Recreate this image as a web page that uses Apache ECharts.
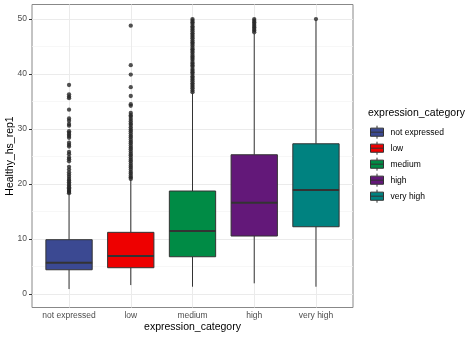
<!DOCTYPE html>
<html><head><meta charset="utf-8">
<script src="https://cdn.jsdelivr.net/npm/echarts@6/dist/echarts.min.js"></script>
<style>html,body{margin:0;padding:0;background:#fff}#c{width:474px;height:338px}</style>
</head><body><div id="c"></div>
<script>
const categories = ['not expressed', 'low', 'medium', 'high', 'very high'];
const categoryPos = [1, 2, 3, 4, 5];
const colors = ['#3B4992', '#EE0000', '#008B45', '#631879', '#008280'];
// [lower whisker, Q1, median, Q3, upper whisker]
const boxNotExpressed = [0.86, 4.37, 5.65, 9.84, 18.1];
const boxLow = [1.58, 4.74, 6.87, 11.18, 20.7];
const boxMedium = [1.28, 6.74, 11.42, 18.7, 36.5];
const boxHigh = [1.9, 10.51, 16.58, 25.3, 47.3];
const boxVeryHigh = [1.28, 12.2, 18.9, 27.3, 49.8];
// outliers
const outNotExpressed = [38.0, 36.3, 35.9, 35.6, 33.5, 31.9, 31.5, 30.9, 30.6, 29.6, 29.3, 29.0, 28.7, 28.4, 27.5, 27.1, 26.8, 25.8, 25.4, 24.8, 24.5, 24.1, 23.1, 22.6, 22.1, 21.7, 21.3, 20.9, 20.6, 20.3, 20.0, 19.7, 19.4, 19.2, 18.9, 18.7, 18.5, 18.3];
const outLow = [48.8, 41.6, 39.9, 37.6, 36.0, 34.5, 34.2, 32.9, 32.5, 32.2, 31.8, 31.4, 31.0, 30.7, 30.3, 29.9, 29.6, 29.2, 28.8, 28.5, 28.1, 27.7, 27.4, 27.0, 26.6, 26.3, 25.9, 25.5, 25.2, 24.8, 24.4, 24.1, 23.7, 23.3, 23.0, 22.6, 22.2, 21.9, 21.5, 21.2, 20.9];
const outMedium = [50.0, 49.7, 49.4, 49.1, 48.7, 48.4, 48.1, 47.8, 47.4, 47.1, 46.8, 46.5, 46.1, 45.8, 45.5, 45.2, 44.8, 44.5, 44.2, 43.9, 43.5, 43.2, 42.9, 42.6, 42.2, 41.9, 41.6, 41.3, 40.9, 40.6, 40.3, 40.0, 39.6, 39.3, 39.0, 38.7, 38.3, 38.0, 37.7, 37.4, 37.0, 36.7];
const outHigh = [50.0, 49.7, 49.4, 49.1, 48.8, 48.5, 48.2, 47.9, 47.6];
const outVeryHigh = [50.0];
const yTicks = [0, 10, 20, 30, 40, 50];
const yMinor = [5, 15, 25, 35, 45];

const boxes = [boxNotExpressed, boxLow, boxMedium, boxHigh, boxVeryHigh];
const outs = [outNotExpressed, outLow, outMedium, outHigh, outVeryHigh];
const FONT = 'Liberation Sans, Arial, sans-serif';

function renderBox(params, api) {
  const x = api.value(0);
  const lo = api.coord([x, api.value(1)]);
  const q1 = api.coord([x, api.value(2)]);
  const med = api.coord([x, api.value(3)]);
  const q3 = api.coord([x, api.value(4)]);
  const hi = api.coord([x, api.value(5)]);
  const w = api.size([0.75, 0], [x, 0])[0];
  const cx = q1[0];
  const left = cx - w / 2;
  const stroke = '#333333';
  return {
    type: 'group',
    children: [
      {type: 'line', shape: {x1: cx, y1: hi[1], x2: cx, y2: q3[1]}, style: {stroke: stroke, lineWidth: 1}},
      {type: 'line', shape: {x1: cx, y1: q1[1], x2: cx, y2: lo[1]}, style: {stroke: stroke, lineWidth: 1}},
      {type: 'rect', shape: {x: left, y: q3[1], width: w, height: q1[1] - q3[1]}, style: {fill: api.visual('color'), stroke: stroke, lineWidth: 1}},
      {type: 'line', shape: {x1: left, y1: med[1], x2: left + w, y2: med[1]}, style: {stroke: stroke, lineWidth: 2}}
    ]
  };
}

const majorStyle = {color: '#EBEBEB', width: 1, type: 'solid'};
const minorStyle = {color: '#F3F3F3', width: 0.7, type: 'solid'};

const series = [];
series.push({
  type: 'line', data: [], silent: true, z: 1, animation: false,
  markLine: {
    z: 1, silent: true, symbol: ['none', 'none'], label: {show: false}, animation: false,
    data: [].concat(
      yMinor.map(v => ({yAxis: v, lineStyle: minorStyle})),
      yTicks.map(v => ({yAxis: v, lineStyle: majorStyle})),
      categoryPos.map(v => ({xAxis: v, lineStyle: majorStyle}))
    )
  }
});
categories.forEach((name, i) => {
  series.push({
    name: name, type: 'custom', renderItem: renderBox, z: 3, animation: false, silent: true,
    itemStyle: {color: colors[i]},
    encode: {x: 0, y: [1, 2, 3, 4, 5]},
    data: [[categoryPos[i]].concat(boxes[i])]
  });
});
const outData = [];
outs.forEach((arr, i) => arr.forEach(v => outData.push([categoryPos[i], v])));
series.push({
  name: 'outliers', type: 'scatter', data: outData, symbol: 'circle', symbolSize: 4.3, z: 4, silent: true, animation: false,
  itemStyle: {color: '#262626', borderWidth: 0}
});

const chart = echarts.init(document.getElementById('c'), null, {renderer: 'canvas'});
chart.setOption({
  backgroundColor: '#fff',
  animation: false,
  textStyle: {fontFamily: FONT},
  grid: {left: 32, right: 121, top: 4.5, bottom: 30.5, show: true, borderColor: '#888', borderWidth: 1, backgroundColor: '#fff', containLabel: false, outerBoundsMode: 'none'},
  xAxis: {
    type: 'value', min: 0.4, max: 5.6,
    axisLine: {show: false}, splitLine: {show: false},
    axisTick: {show: true, customValues: categoryPos, length: 3, lineStyle: {color: '#333'}},
    axisLabel: {customValues: categoryPos, formatter: v => categories[Math.round(v) - 1], fontSize: 8.5, color: '#4D4D4D', margin: 4, fontFamily: FONT},
    name: 'expression_category', nameLocation: 'middle', nameGap: 14, nameMoveOverlap: false,
    nameTextStyle: {fontSize: 10.5, color: '#000', fontFamily: FONT}
  },
  yAxis: {
    type: 'value', min: -2.5, max: 52.65,
    axisLine: {show: false}, splitLine: {show: false},
    axisTick: {show: true, customValues: yTicks, length: 3, lineStyle: {color: '#333'}},
    axisLabel: {customValues: yTicks, fontSize: 8.5, color: '#4D4D4D', margin: 5, fontFamily: FONT},
    name: 'Healthy_hs_rep1', nameLocation: 'middle', nameGap: 16, nameMoveOverlap: false,
    nameTextStyle: {fontSize: 10.5, color: '#000', fontFamily: FONT}
  },
  legend: {
    orient: 'vertical', left: 370, top: 125.2, padding: 0, itemWidth: 13, itemHeight: 13, itemGap: 2,
    selectedMode: false,
    icon: 'path://M0,18.75H100V81.25H0Z M50,0V18.75 M50,81.25V100 M0,50H100',
    data: categories,
    itemStyle: {borderColor: '#333', borderWidth: 1},
    textStyle: {fontSize: 8.5, color: '#000', fontFamily: FONT, padding: [0, 0, 0, 2]}
  },
  graphic: [{type: 'text', left: 368, top: 108, style: {text: 'expression_category', fontSize: 10.5, fill: '#000', fontFamily: FONT}}],
  series: series
});
</script></body></html>
